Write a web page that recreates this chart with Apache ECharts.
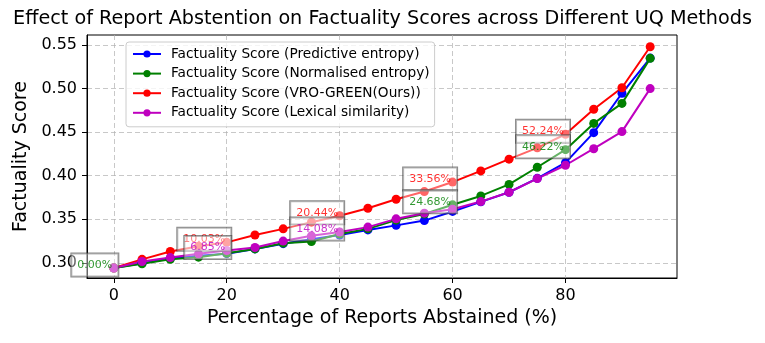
<!DOCTYPE html>
<html>
<head>
<meta charset="utf-8">
<script src="https://cdn.jsdelivr.net/npm/echarts@6/dist/echarts.min.js"></script>
<style>
  html, body { margin: 0; padding: 0; background: #fff; }
  #chart { width: 765px; height: 343px; }
</style>
</head>
<body>
<div id="chart"></div>
<script>
// percentage of reports abstained
const abstained = [0, 5, 10, 15, 20, 25, 30, 35, 40, 45, 50, 55, 60, 65, 70, 75, 80, 85, 90, 95];

const predictiveEntropy = [0.294, 0.2996, 0.305, 0.308, 0.3105, 0.316, 0.322, 0.327, 0.332, 0.3378,
  0.343, 0.3485, 0.359, 0.370, 0.381, 0.397, 0.415, 0.4494, 0.4946, 0.535];
const normalisedEntropy = [0.294, 0.299, 0.304, 0.3065, 0.311, 0.316, 0.3226, 0.3244, 0.333, 0.339,
  0.349, 0.356, 0.3666, 0.3768, 0.390, 0.4097, 0.4299, 0.460, 0.483, 0.5347];
const vroGreen = [0.294, 0.304, 0.313, 0.319, 0.3235, 0.332, 0.339, 0.3467, 0.3541, 0.3627,
  0.373, 0.3818, 0.3927, 0.4055, 0.419, 0.432, 0.4476, 0.4763, 0.501, 0.548];
const lexicalSimilarity = [0.294, 0.3015, 0.306, 0.3103, 0.3141, 0.3176, 0.325, 0.331, 0.3354, 0.341,
  0.3505, 0.357, 0.3616, 0.3703, 0.381, 0.3967, 0.412, 0.431, 0.4506, 0.500];

const xTicks = [0, 20, 40, 60, 80];
const yTicks = [0.30, 0.35, 0.40, 0.45, 0.50, 0.55];

// improvement annotations (series index into seriesDefs)
const annoX = [0, 20, 20, 40, 40, 60, 60, 80, 80];
const annoSeries = [1, 2, 3, 2, 3, 2, 1, 2, 1];
const annoText = ['0.00%', '10.03%', '6.85%', '20.44%', '14.08%', '33.56%', '24.68%', '52.24%', '46.22%'];

const FONT = 'DejaVu Sans';

const seriesDefs = [
  { name: 'Factuality Score (Predictive entropy)', values: predictiveEntropy, color: '#0000ff' },
  { name: 'Factuality Score (Normalised entropy)', values: normalisedEntropy, color: '#008000' },
  { name: 'Factuality Score (VRO-GREEN(Ours))', values: vroGreen, color: '#ff0000' },
  { name: 'Factuality Score (Lexical similarity)', values: lexicalSimilarity, color: '#bf00bf' },
];

const lineSeries = seriesDefs.map(s => ({
  name: s.name,
  type: 'line',
  data: abstained.map((x, i) => [x, s.values[i]]),
  symbol: 'circle',
  symbolSize: 9,
  color: s.color,
  lineStyle: { width: 2, color: s.color },
  itemStyle: { color: s.color },
  emphasis: { disabled: true },
  z: 2,
}));

const annoData = annoX.map((x, i) => {
  const s = seriesDefs[annoSeries[i]];
  const y = s.values[abstained.indexOf(x)];
  return {
    value: [x, y],
    label: {
      show: true,
      formatter: annoText[i],
      color: s.color,
    },
  };
});

const annoSeriesObj = {
  name: 'annotations',
  type: 'scatter',
  data: annoData,
  symbolSize: 1,
  itemStyle: { color: 'transparent' },
  silent: true,
  z: 10,
  label: {
    position: 'left',
    distance: 0,
    offset: [5, -3],
    fontFamily: FONT,
    fontSize: 11,
    backgroundColor: 'rgba(255,255,255,0.5)',
    borderColor: 'rgba(60,60,60,0.75)',
    borderWidth: 1,
    padding: [6, 6, 6, 6],
  },
};

const chart = echarts.init(document.getElementById('chart'), null, { renderer: 'canvas' });
chart.setOption({
  animation: false,
  backgroundColor: '#fff',
  title: {
    text: 'Effect of Report Abstention on Factuality Scores across Different UQ Methods',
    left: 'center',
    top: 10,
    padding: 0,
    textStyle: { fontFamily: FONT, fontSize: 19.2, fontWeight: 'normal', color: '#000' },
  },
  legend: {
    data: seriesDefs.map(s => s.name),
    orient: 'vertical',
    left: 126,
    top: 42,
    itemWidth: 28,
    itemHeight: 9,
    itemGap: 3.6,
    padding: [4, 5, 6, 6],
    backgroundColor: 'rgba(255,255,255,0.8)',
    borderColor: '#cccccc',
    borderWidth: 1,
    borderRadius: 3,
    selectedMode: false,
    textStyle: { fontFamily: FONT, fontSize: 13.7, color: '#000', lineHeight: 16, padding: [0, 0, 0, 5] },
  },
  grid: {
    left: 87, right: 88, top: 35, bottom: 65,
    show: true, borderColor: '#000', borderWidth: 1, backgroundColor: 'transparent',
  },
  xAxis: {
    type: 'value',
    min: -4.75,
    max: 99.75,
    name: 'Percentage of Reports Abstained (%)',
    nameLocation: 'middle',
    nameGap: 31,
    nameTextStyle: { fontFamily: FONT, fontSize: 19, color: '#000' },
    axisLine: { show: true, onZero: false, lineStyle: { color: '#000', width: 1 } },
    axisTick: { show: true, length: 5, customValues: xTicks, lineStyle: { color: '#000' } },
    axisLabel: { customValues: xTicks, fontFamily: FONT, fontSize: 16, color: '#000', margin: 10 },
    splitLine: { show: true, lineStyle: { color: 'rgba(176,176,176,0.7)', width: 1, type: [5, 3] } },
  },
  yAxis: {
    type: 'value',
    min: 0.2826,
    max: 0.5615,
    name: 'Factuality Score',
    nameLocation: 'middle',
    nameGap: 48,
    nameTextStyle: { fontFamily: FONT, fontSize: 19, color: '#000' },
    axisLine: { show: true, onZero: false, lineStyle: { color: '#000', width: 1 } },
    axisTick: { show: true, length: 5, customValues: yTicks, lineStyle: { color: '#000' } },
    axisLabel: {
      customValues: yTicks, fontFamily: FONT, fontSize: 16, color: '#000', margin: 10,
      formatter: v => v.toFixed(2),
    },
    splitLine: { show: true, lineStyle: { color: 'rgba(176,176,176,0.7)', width: 1, type: [5, 3] } },
  },
  series: [...lineSeries, annoSeriesObj],
});
</script>
</body>
</html>
